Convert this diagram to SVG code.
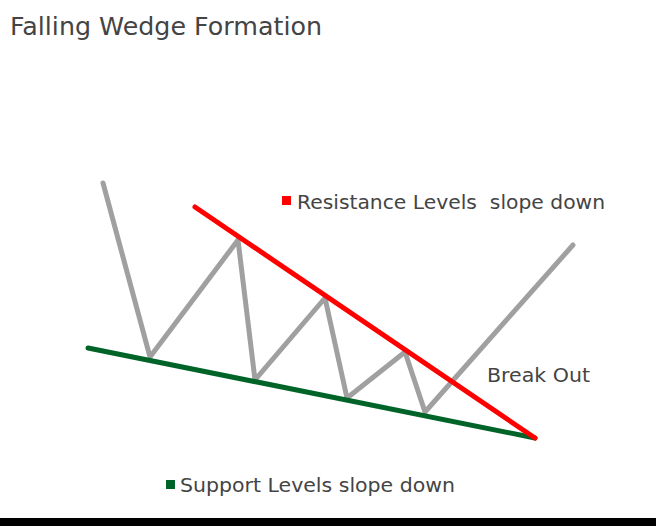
<svg xmlns="http://www.w3.org/2000/svg" width="656" height="526" viewBox="0 0 656 526">
<style>
text{font-family:"DejaVu Sans","Liberation Sans",sans-serif;fill:#444}
.l{font-size:20px}
</style>
<rect width="656" height="526" fill="#fff"/>
<rect x="0" y="518" width="656" height="8" fill="#000"/>
<text x="10" y="35" font-size="25" fill="#555" textLength="312" lengthAdjust="spacingAndGlyphs">Falling Wedge Formation</text>
<g id="connectors" fill="none" stroke-linecap="round" stroke-linejoin="round">
<polyline id="price" points="103,183 150,357 238,240 255,380 325,298 347,398 405,352 425,412 573,245" stroke="#a0a0a0" stroke-width="5"/>
<line id="support" x1="88" y1="348" x2="535" y2="438" stroke="#006428" stroke-width="5"/>
<line id="resistance" x1="195" y1="207" x2="535" y2="438" stroke="#ff0000" stroke-width="5"/>
</g>
<g id="resistance-label"><rect x="282" y="196" width="9" height="9" fill="#ff0000"/><text class="l" x="297" y="209" xml:space="preserve" textLength="308" lengthAdjust="spacingAndGlyphs">Resistance Levels  slope down</text></g>
<g id="breakout-label"><text class="l" x="487" y="382" textLength="103" lengthAdjust="spacingAndGlyphs">Break Out</text></g>
<g id="support-label"><rect x="166" y="480" width="9" height="9" fill="#006428"/><text class="l" x="180" y="492" textLength="275" lengthAdjust="spacingAndGlyphs">Support Levels slope down</text></g>
</svg>
